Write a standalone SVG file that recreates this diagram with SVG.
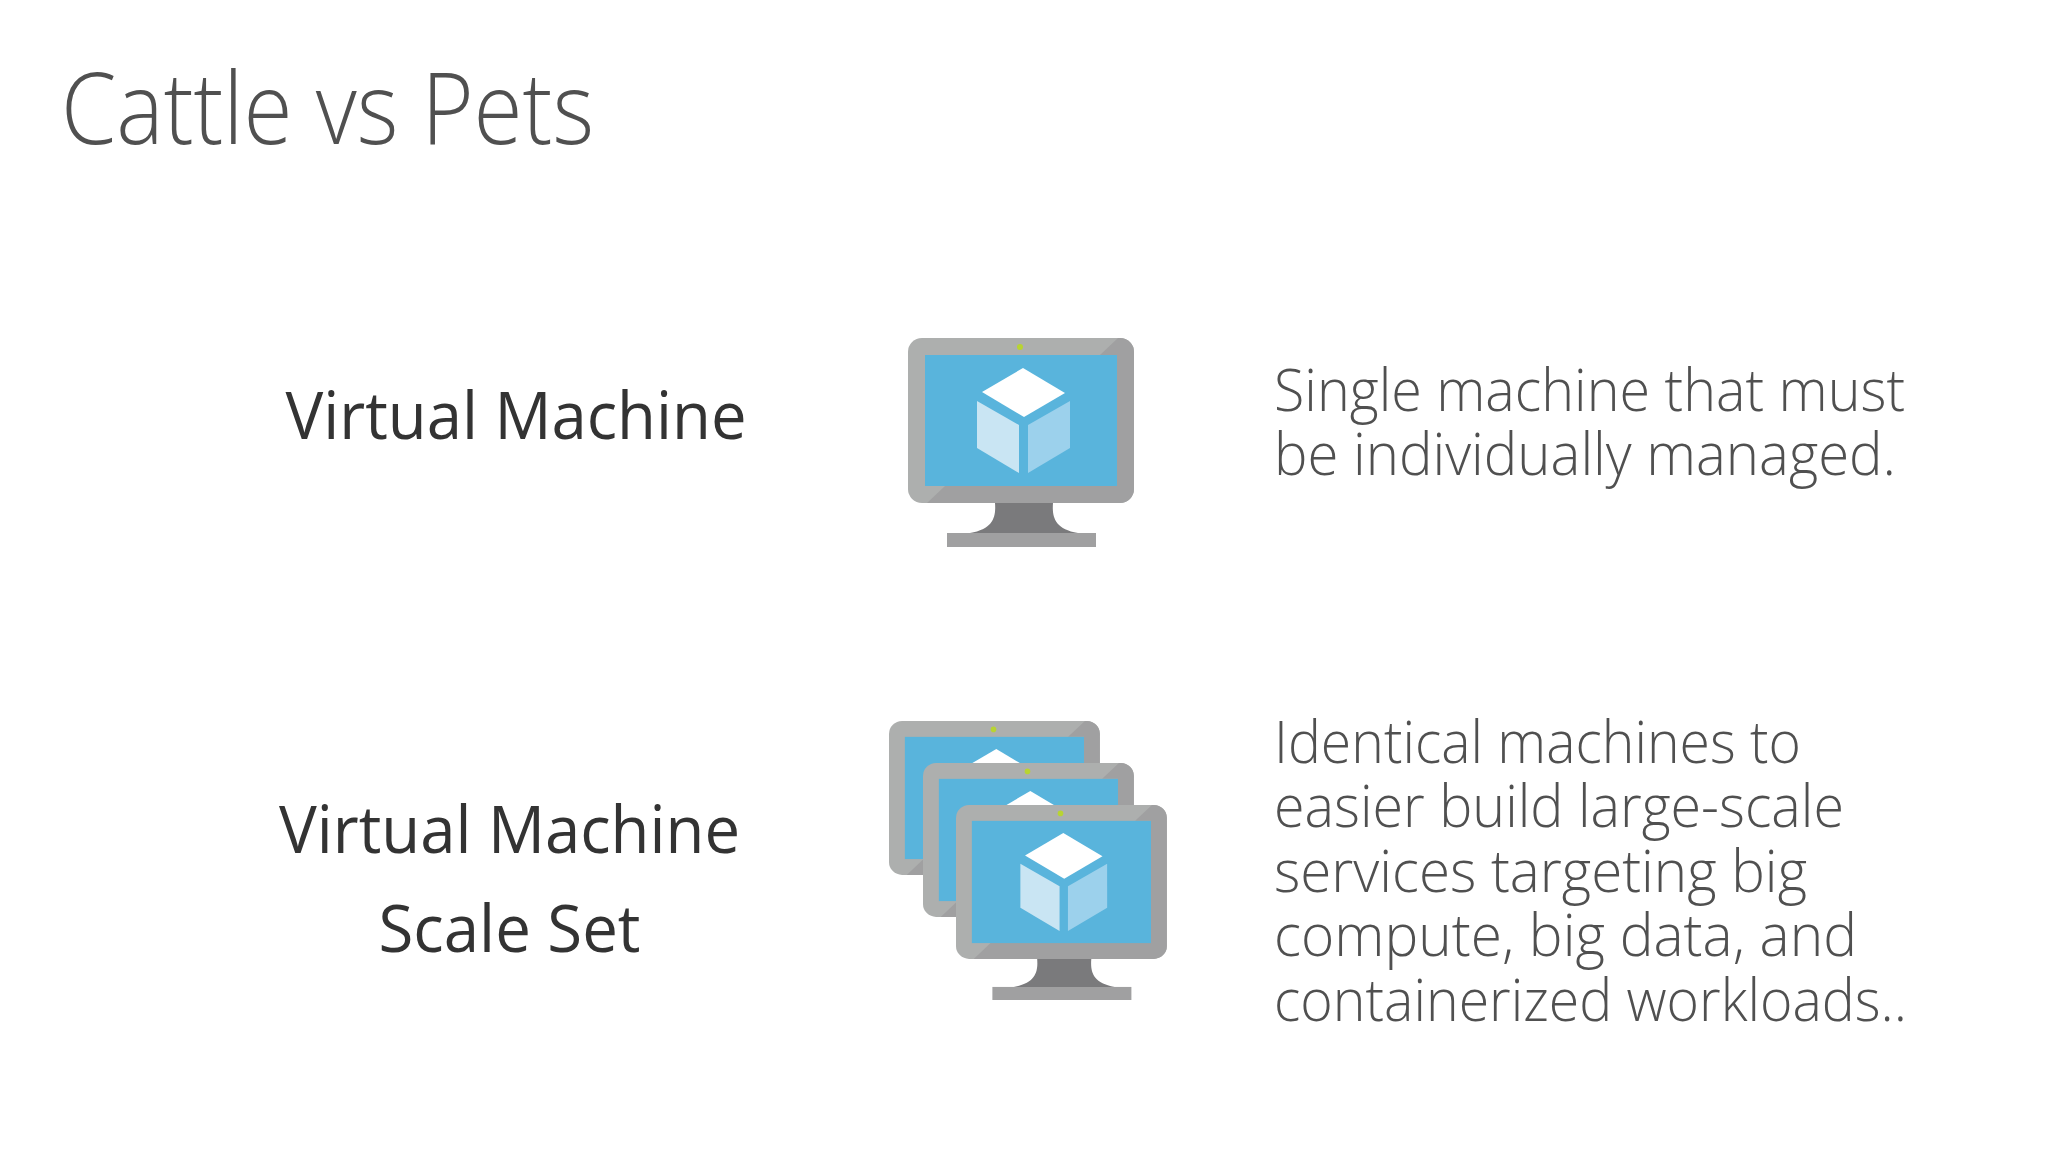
<svg xmlns="http://www.w3.org/2000/svg" xmlns:xlink="http://www.w3.org/1999/xlink" width="2048" height="1152" viewBox="0 0 2048 1152">
<style>
text{font-family:"Open Sans","Noto Sans","Liberation Sans",sans-serif}
.title{font-size:100px;font-weight:300;fill:#505050}
.label{font-size:66px;font-weight:400;fill:#333333}
.desc{font-size:58px;font-weight:300;fill:#505050}
</style>
<defs>
<g id="display">
<rect width="226" height="165" rx="14" fill="#adafae"/>
<path d="M210 0L212 0A14 14 0 0 1 226 14V151A14 14 0 0 1 212 165H19L37 148H209V17H192Z" fill="#a0a0a1"/>
<rect x="17" y="17" width="192" height="131" fill="#59b4dc"/>
<circle cx="112" cy="9" r="3" fill="#b8d432"/>
<path d="M115 30L157 55L116 79L74 54Z" fill="#ffffff"/>
<path d="M69 63L111 87V135L69 110Z" fill="#c9e5f3"/>
<path d="M120 87L162 63V110L120 135Z" fill="#9cd1ec"/>
</g>
<g id="monitor">
<rect x="39" y="195" width="149" height="14" fill="#a0a0a1"/>
<path d="M87 165H145C144 178 146 191 170 195H62C86 191 88 178 87 165Z" fill="#7a7a7c"/>
<use href="#display" xlink:href="#display"/>
</g>
</defs>
<rect width="2048" height="1152" fill="#ffffff"/>
<g id="title"><text class="title" x="61" y="144" textLength="533" lengthAdjust="spacingAndGlyphs">Cattle vs Pets</text></g>
<g id="vm">
<text class="label" x="285.5" y="439" textLength="461" lengthAdjust="spacingAndGlyphs">Virtual Machine</text>
<use href="#monitor" xlink:href="#monitor" transform="translate(908 338)"/>
<g id="vm-desc">
<text class="desc" x="1274" y="411" textLength="631" lengthAdjust="spacingAndGlyphs">Single machine that must</text>
<text class="desc" x="1274" y="475" textLength="622" lengthAdjust="spacingAndGlyphs">be individually managed.</text>
</g>
</g>
<g id="vmss">
<text class="label" x="279" y="853" textLength="461" lengthAdjust="spacingAndGlyphs">Virtual Machine</text>
<text class="label" x="378.5" y="952" textLength="262" lengthAdjust="spacingAndGlyphs">Scale Set</text>
<use href="#display" xlink:href="#display" transform="translate(889 721) scale(.933)"/>
<use href="#display" xlink:href="#display" transform="translate(923 763) scale(.933)"/>
<use href="#monitor" xlink:href="#monitor" transform="translate(956 805) scale(.933)"/>
<g id="vmss-desc">
<text class="desc" x="1274" y="763" textLength="527" lengthAdjust="spacingAndGlyphs">Identical machines to</text>
<text class="desc" x="1274" y="827" textLength="570" lengthAdjust="spacingAndGlyphs">easier build large-scale</text>
<text class="desc" x="1274" y="892" textLength="533" lengthAdjust="spacingAndGlyphs">services targeting big</text>
<text class="desc" x="1274" y="956" textLength="583" lengthAdjust="spacingAndGlyphs">compute, big data, and</text>
<text class="desc" x="1274" y="1021" textLength="633" lengthAdjust="spacingAndGlyphs">containerized workloads..</text>
</g>
</g>
</svg>
